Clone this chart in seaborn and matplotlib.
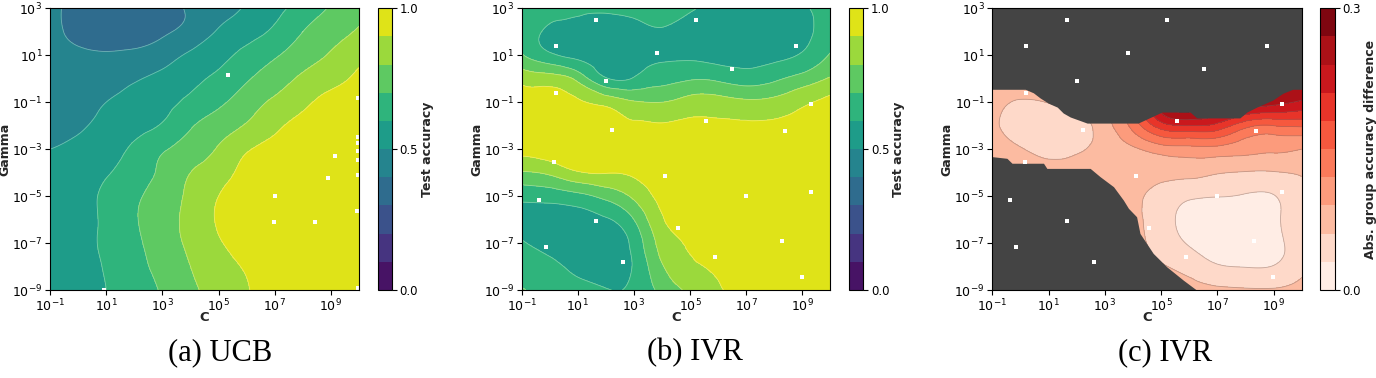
import numpy as np
import matplotlib
matplotlib.use("Agg")
import matplotlib.pyplot as plt
from matplotlib.ticker import FixedLocator, FuncFormatter, NullLocator
from matplotlib.tri import Triangulation, UniformTriRefiner
import seaborn as sns

# ---------------- data (log10 units) ----------------
log_c = [-1, 0, 1, 2, 3, 4, 5, 6, 7, 8, 9, 10]
log_gamma = [-9, -8, -7, -6, -5, -4, -3, -2, -1, 0, 1, 2, 3]

# rows: gamma ascending (-9 ... 3), columns: C ascending (-1 ... 10)
ucb_acc = [
    [0.51, 0.54, 0.60, 0.65, 0.71, 0.78, 0.84, 0.895, 0.93, 0.95, 0.96, 0.96],
    [0.52, 0.55, 0.61, 0.67, 0.73, 0.80, 0.86, 0.91, 0.95, 0.97, 0.97, 0.97],
    [0.53, 0.56, 0.62, 0.68, 0.75, 0.82, 0.89, 0.94, 0.97, 0.98, 0.98, 0.98],
    [0.53, 0.56, 0.62, 0.69, 0.76, 0.83, 0.91, 0.95, 0.97, 0.98, 0.98, 0.98],
    [0.53, 0.56, 0.62, 0.68, 0.75, 0.82, 0.90, 0.95, 0.97, 0.98, 0.98, 0.98],
    [0.52, 0.55, 0.59, 0.65, 0.72, 0.80, 0.86, 0.93, 0.96, 0.97, 0.98, 0.98],
    [0.50, 0.52, 0.55, 0.62, 0.69, 0.74, 0.81, 0.89, 0.93, 0.96, 0.97, 0.97],
    [0.46, 0.49, 0.52, 0.56, 0.61, 0.69, 0.75, 0.81, 0.88, 0.93, 0.96, 0.97],
    [0.45, 0.47, 0.50, 0.53, 0.57, 0.62, 0.68, 0.75, 0.82, 0.88, 0.93, 0.95],
    [0.44, 0.45, 0.46, 0.49, 0.53, 0.58, 0.62, 0.69, 0.75, 0.82, 0.87, 0.92],
    [0.44, 0.42, 0.41, 0.42, 0.45, 0.52, 0.57, 0.63, 0.69, 0.75, 0.81, 0.87],
    [0.44, 0.37, 0.35, 0.36, 0.39, 0.43, 0.51, 0.56, 0.62, 0.70, 0.76, 0.81],
    [0.45, 0.35, 0.33, 0.33, 0.37, 0.41, 0.46, 0.51, 0.57, 0.64, 0.71, 0.78],
]

ivr_acc = [
    [0.705, 0.67, 0.64, 0.605, 0.62, 0.73, 0.82, 0.89, 0.93, 0.97, 0.97, 0.97],
    [0.66, 0.63, 0.57, 0.55, 0.61, 0.79, 0.88, 0.925, 0.97, 0.97, 0.97, 0.97],
    [0.61, 0.56, 0.53, 0.54, 0.63, 0.84, 0.91, 0.97, 0.97, 0.97, 0.97, 0.97],
    [0.56, 0.55, 0.56, 0.59, 0.70, 0.89, 0.94, 0.97, 0.97, 0.97, 0.97, 0.97],
    [0.63, 0.64, 0.67, 0.73, 0.82, 0.93, 0.96, 0.97, 0.97, 0.97, 0.97, 0.97],
    [0.79, 0.82, 0.89, 0.905, 0.92, 0.96, 0.97, 0.97, 0.97, 0.97, 0.97, 0.97],
    [0.93, 0.95, 0.97, 0.97, 0.97, 0.97, 0.97, 0.97, 0.97, 0.97, 0.97, 0.97],
    [0.95, 0.95, 0.94, 0.93, 0.915, 0.91, 0.92, 0.92, 0.915, 0.92, 0.94, 0.96],
    [0.93, 0.92, 0.91, 0.87, 0.81, 0.80, 0.84, 0.84, 0.82, 0.83, 0.88, 0.93],
    [0.87, 0.85, 0.77, 0.61, 0.61, 0.66, 0.69, 0.68, 0.65, 0.68, 0.74, 0.81],
    [0.71, 0.62, 0.57, 0.56, 0.575, 0.59, 0.585, 0.57, 0.57, 0.58, 0.61, 0.71],
    [0.67, 0.58, 0.56, 0.56, 0.58, 0.595, 0.57, 0.55, 0.55, 0.56, 0.58, 0.64],
    [0.66, 0.64, 0.62, 0.62, 0.63, 0.63, 0.61, 0.57, 0.56, 0.57, 0.59, 0.64],
]

ivr_gap = [
    [0.075, 0.075, 0.075, 0.072, 0.07, 0.07, 0.07, 0.07, 0.066, 0.063, 0.063, 0.07],
    [0.075, 0.075, 0.075, 0.072, 0.07, 0.068, 0.062, 0.05, 0.033, 0.029, 0.031, 0.052],
    [0.075, 0.075, 0.075, 0.072, 0.07, 0.066, 0.05, 0.027, 0.012, 0.01, 0.022, 0.045],
    [0.075, 0.075, 0.075, 0.072, 0.07, 0.065, 0.045, 0.018, 0.012, 0.015, 0.025, 0.05],
    [0.075, 0.075, 0.075, 0.072, 0.07, 0.065, 0.05, 0.035, 0.031, 0.028, 0.029, 0.05],
    [0.075, 0.07, 0.07, 0.07, 0.07, 0.068, 0.068, 0.068, 0.062, 0.058, 0.058, 0.063],
    [0.075, 0.062, 0.05, 0.055, 0.07, 0.085, 0.105, 0.11, 0.11, 0.10, 0.095, 0.09],
    [0.068, 0.045, 0.04, 0.045, 0.078, 0.13, 0.195, 0.21, 0.20, 0.16, 0.15, 0.155],
    [0.075, 0.057, 0.061, 0.07, 0.085, 0.15, 0.26, 0.295, 0.27, 0.26, 0.25, 0.235],
    [0.08, 0.075, 0.075, 0.08, 0.10, 0.17, 0.27, 0.295, 0.29, 0.28, 0.27, 0.27],
    [0.08, 0.08, 0.08, 0.09, 0.12, 0.18, 0.28, 0.295, 0.295, 0.29, 0.28, 0.28],
    [0.08, 0.08, 0.08, 0.09, 0.12, 0.18, 0.28, 0.295, 0.295, 0.295, 0.295, 0.295],
    [0.08, 0.08, 0.08, 0.09, 0.12, 0.18, 0.28, 0.295, 0.295, 0.295, 0.295, 0.295],
]

# masked (dark) regions of panel (c): boundaries in log10 units
top_mask_c = [-1, 0.17, 0.46, 0.70, 0.99, 1.31, 1.52, 1.77, 2.37, 4.18, 5.03, 6.03,
              6.27, 7.80, 8.05, 8.40, 8.97, 9.33, 9.68, 10]
top_mask_g = [-0.45, -0.45, -0.60, -0.82, -1.04, -1.21, -1.46, -1.63, -1.89, -1.89,
              -1.42, -1.42, -1.67, -1.67, -1.42, -1.21, -0.91, -0.62, -0.45, -0.45]
low_mask_c = [-1, -0.48, -0.30, 0.82, 0.94, 2.48, 2.83, 3.31, 3.66, 3.84, 4.13, 4.25,
              4.72, 5.20, 5.79, 6.26]
low_mask_g = [-3.32, -3.39, -3.60, -3.60, -3.82, -3.82, -4.17, -4.60, -5.17, -5.52,
              -5.88, -6.59, -7.44, -8.01, -8.58, -9.0]

# evaluated hyper-parameters (white markers), log10 units
ucb_pts_c = [5.32, 9.14, 8.90, 7.00, 6.96, 8.43, 9.92, 9.96, 9.96, 9.96, 9.96, 9.96, 9.96, 9.96, 0.93]
ucb_pts_g = [0.17, -3.31, -4.22, -5.01, -6.12, -6.12, -5.64, -0.84, -2.47, -2.75, -3.10, -3.47, -4.10, -8.90, -9.0]
ivr_pts_c = [1.66, 5.20, 0.21, 3.83, 8.76, 6.51, 2.02, 0.21, 9.30, 5.58, 2.21, 8.39, 0.16,
             4.10, 9.30, 6.98, -0.37, 1.64, 4.57, 8.29, -0.14, 5.90, 2.62, 8.99]
ivr_pts_g = [2.49, 2.50, 1.38, 1.11, 1.38, 0.40, -0.08, -0.62, -1.09, -1.82, -2.20, -2.23, -3.55,
             -4.13, -4.83, -5.01, -5.17, -6.08, -6.35, -6.93, -7.18, -7.58, -7.82, -8.45]

captions = ["(a) UCB", "(b) IVR", "(c) IVR"]
cbar_labels = ["Test accuracy", "Test accuracy", "Abs. group accuracy difference"]

# ---------------- style ----------------
sns.set_theme(style="ticks")
plt.rcParams["font.family"] = ["DejaVu Sans"]
plt.rcParams["axes.edgecolor"] = "black"
plt.rcParams["axes.linewidth"] = 0.8
plt.rcParams["xtick.color"] = "black"
plt.rcParams["ytick.color"] = "black"

fig = plt.figure(figsize=(13.76, 3.78), dpi=100)
W, H = 1376.0, 378.0


def fx(px):
    return px / W


ax_bottom = (H - 290.0) / H
ax_height = (290.0 - 8.3) / H

panels = [
    dict(ax=(50.0, 359.0), cb=(378.3, 391.7), z=ucb_acc, cmap="viridis",
         levels=np.linspace(0, 1, 11), ticks=[0.0, 0.5, 1.0], pts=(ucb_pts_c, ucb_pts_g),
         line_color="white", line_alpha=0.35, cap_x=220, clip=(0.001, 0.999)),
    dict(ax=(521.7, 830.3), cb=(849.3, 863.3), z=ivr_acc, cmap="viridis",
         levels=np.linspace(0, 1, 11), ticks=[0.0, 0.5, 1.0], pts=(ivr_pts_c, ivr_pts_g),
         line_color="white", line_alpha=0.35, cap_x=695, clip=(0.001, 0.999)),
    dict(ax=(992.3, 1301.7), cb=(1320.0, 1335.0), z=ivr_gap, cmap="Reds",
         levels=np.linspace(0, 0.3, 11), ticks=[0.0, 0.3], pts=(ivr_pts_c, ivr_pts_g),
         line_color="#7a6a66", line_alpha=0.45, cap_x=1165, clip=(0.0005, 0.2995)),
]

tick_fmt = FuncFormatter(lambda v, p: r"$10^{%d}$" % int(round(v)))

grid_c, grid_g = np.meshgrid(log_c, log_gamma)
tri = Triangulation(grid_c.ravel().astype(float), grid_g.ravel().astype(float))
refiner = UniformTriRefiner(tri)

for i, p in enumerate(panels):
    ax = fig.add_axes([fx(p["ax"][0]), ax_bottom, fx(p["ax"][1] - p["ax"][0]), ax_height])
    cax = fig.add_axes([fx(p["cb"][0]), ax_bottom, fx(p["cb"][1] - p["cb"][0]), ax_height])
    Z = np.array(p["z"], dtype=float)
    tri_r, z_r = refiner.refine_field(Z.ravel(), subdiv=4)
    z_r = np.clip(z_r, *p["clip"])
    cf = ax.tricontourf(tri_r, z_r, levels=p["levels"], cmap=p["cmap"], zorder=1)
    ax.tricontour(tri_r, z_r, levels=p["levels"], colors=p["line_color"],
                  linewidths=0.6, alpha=p["line_alpha"], zorder=2)
    if i == 2:
        ax.fill_between(top_mask_c, top_mask_g, 3, color="#444444", lw=0, zorder=3)
        ax.fill_between(low_mask_c, -9, low_mask_g, color="#444444", lw=0, zorder=3)
    sns.scatterplot(x=p["pts"][0], y=p["pts"][1], ax=ax, color="white", marker="s",
                    s=5, linewidth=0, zorder=5, legend=False)
    ax.set_xlim(-1, 10)
    ax.set_ylim(-9, 3)
    ax.xaxis.set_major_locator(FixedLocator([-1, 1, 3, 5, 7, 9]))
    ax.yaxis.set_major_locator(FixedLocator([-9, -7, -5, -3, -1, 1, 3]))
    ax.xaxis.set_minor_locator(NullLocator())
    ax.yaxis.set_minor_locator(NullLocator())
    ax.xaxis.set_major_formatter(tick_fmt)
    ax.yaxis.set_major_formatter(tick_fmt)
    ax.tick_params(labelsize=9, length=3.5, width=0.8, pad=2)
    ax.set_xlabel("C", fontsize=9.5, fontweight="bold")
    ax.set_ylabel("Gamma", fontsize=9, fontweight="bold")
    ax.xaxis.set_label_coords(0.5, -0.075)
    ax.yaxis.set_label_coords(-0.125, 0.5)
    for s in ax.spines.values():
        s.set_visible(True)
        s.set_zorder(6)

    cb = fig.colorbar(cf, cax=cax, ticks=p["ticks"])
    cb.ax.set_yticklabels(["%.1f" % t for t in p["ticks"]])
    cb.ax.tick_params(labelsize=8.5, length=3.5, width=0.8, pad=2)
    cb.outline.set_linewidth(0.8)
    cb.set_label(cbar_labels[i], fontsize=9, fontweight="bold", labelpad=2)

    fig.text(fx(p["cap_x"]), (H - 353.0) / H, captions[i], ha="center", va="center",
             fontsize=22, family=["Liberation Serif", "DejaVu Serif"], color="black")

fig.savefig("out.png", dpi=100)
